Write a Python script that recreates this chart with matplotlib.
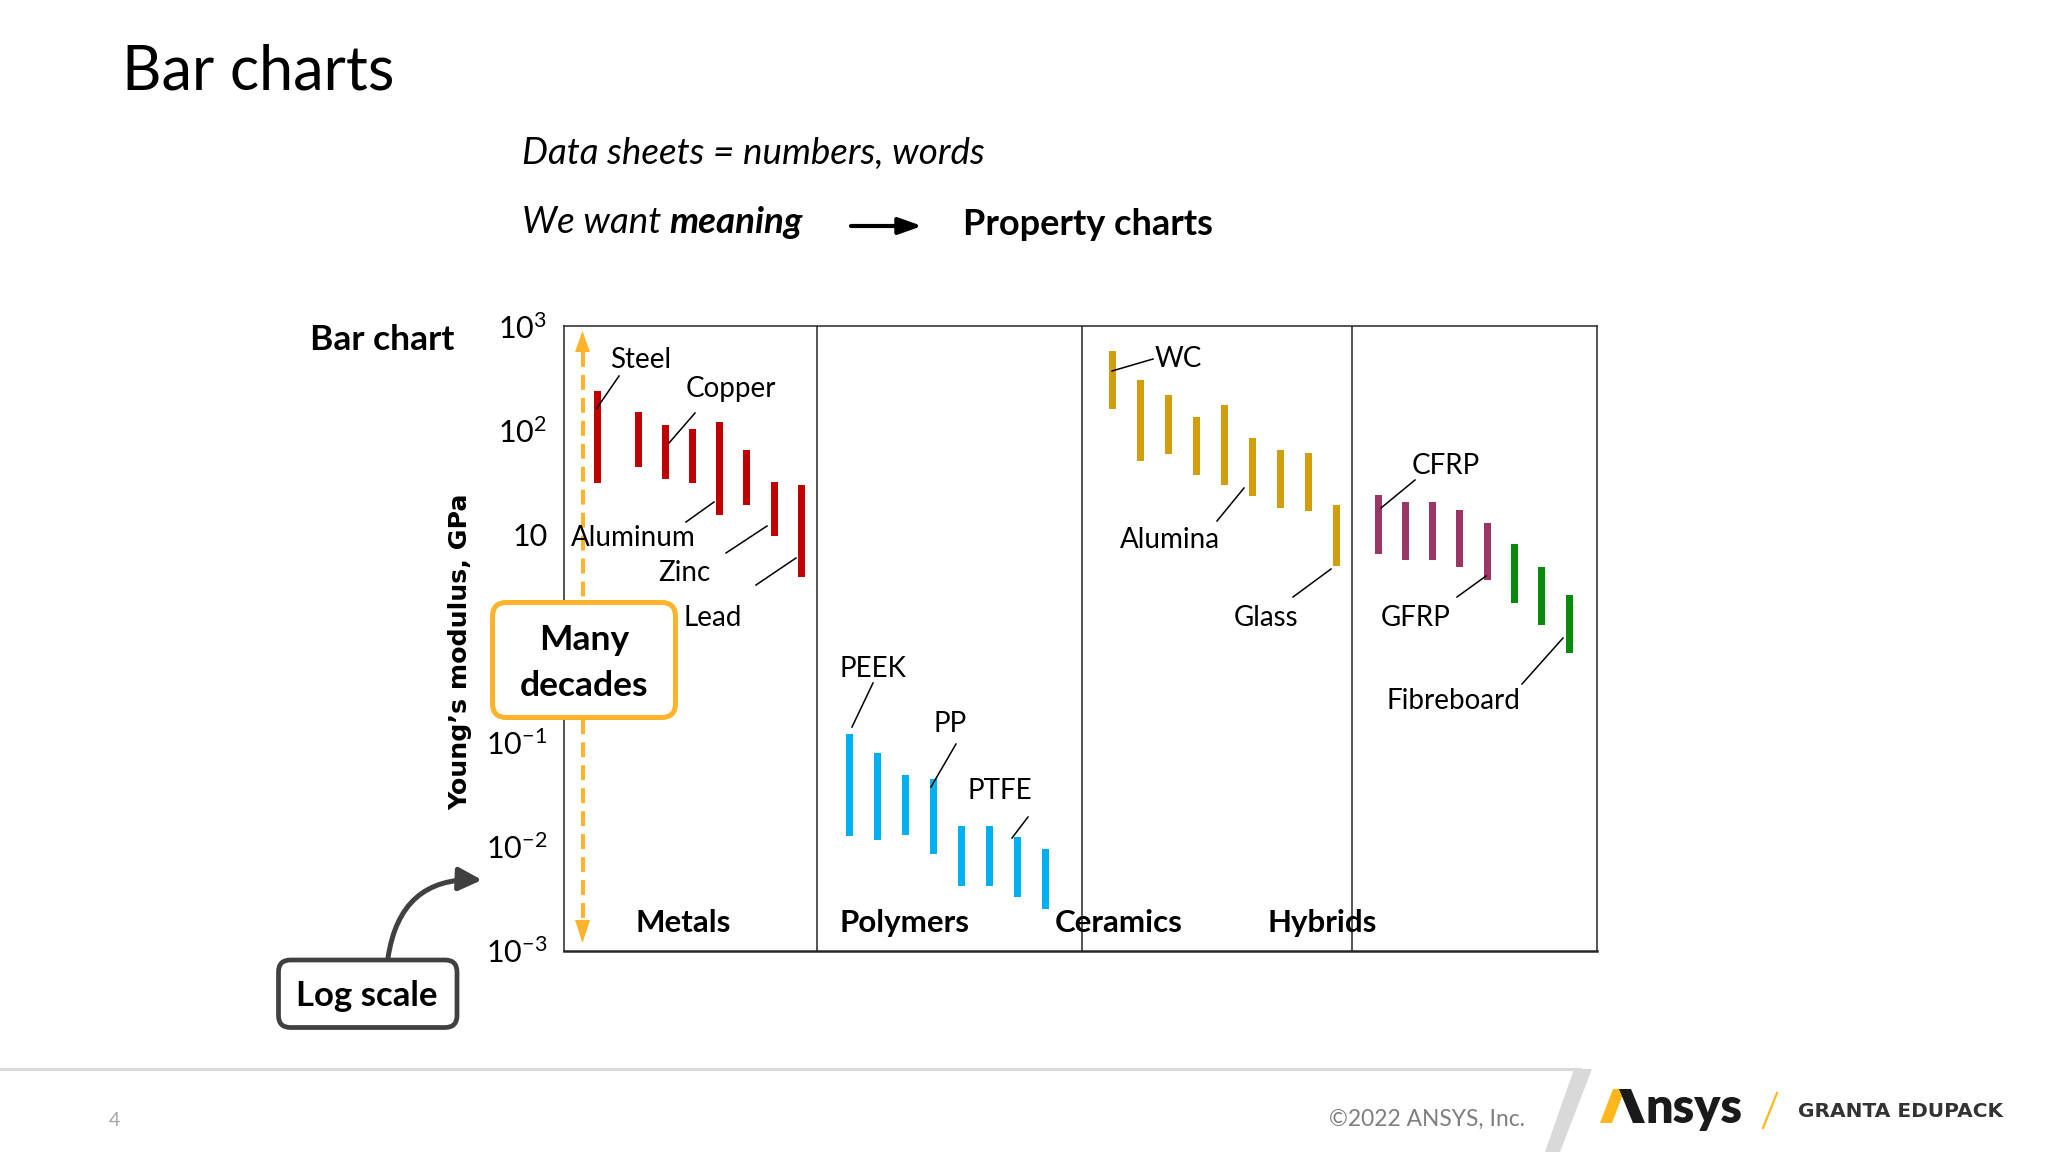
import matplotlib
matplotlib.use('Agg')
import matplotlib.pyplot as plt
from matplotlib.patches import FancyBboxPatch, FancyArrowPatch, Polygon
from matplotlib.ticker import NullLocator

# Young's modulus ranges (GPa)
metals = ['Steel', '', 'Copper', '', 'Aluminum', '', 'Zinc', 'Lead']
metals_lo = [31, 44.5, 34, 31, 15.3, 19, 9.5, 3.9]
metals_hi = [240, 148, 113, 103, 119, 64, 31.5, 30]

polymers = ['PEEK', '', '', 'PP', '', '', 'PTFE', '']
polymers_lo = [0.0127, 0.0115, 0.013, 0.0085, 0.0042, 0.0042, 0.0033, 0.0025]
polymers_hi = [0.12, 0.079, 0.049, 0.044, 0.0156, 0.0156, 0.0123, 0.0095]

ceramics = ['WC', '', '', '', '', 'Alumina', '', '', 'Glass']
ceramics_lo = [160, 51, 59, 37, 30, 23.4, 18, 16.6, 4.9]
ceramics_hi = [580, 305, 216, 134, 174, 84, 64, 60, 19]

hybrids = ['CFRP', '', '', '', 'GFRP', '', '', 'Fibreboard']
hybrids_lo = [6.5, 5.7, 5.7, 4.8, 3.6, 2.2, 1.33, 0.72]
hybrids_hi = [23.6, 20.5, 20.5, 17.2, 12.9, 8.0, 4.8, 2.6]

families = ['Metals', 'Polymers', 'Ceramics', 'Hybrids']
yticks = [1e3, 1e2, 10, 1e-1, 1e-2, 1e-3]
ytick_labels = ['$10^{3}$', '$10^{2}$', '10', '$10^{-1}$', '$10^{-2}$', '$10^{-3}$']

RED = '#C00000'
BLUE = '#00B0F0'
GOLD = '#D19E0E'
PLUM = '#9B3565'
GREEN = '#0A8A0A'
ORANGE = '#FDB42A'
DARK = '#404040'

plt.rcParams['font.family'] = ['Lato', 'DejaVu Sans']
plt.rcParams['mathtext.fontset'] = 'custom'
plt.rcParams['mathtext.rm'] = 'Lato'
plt.rcParams['mathtext.it'] = 'Lato:italic'
plt.rcParams['mathtext.bf'] = 'Lato:bold'

W, H = 2048, 1152
fig = plt.figure(figsize=(W / 100, H / 100), dpi=100)
fig.patch.set_facecolor('white')

# chart frame in slide pixels
L, R, T, B = 564, 1597, 326, 950.5
ax = fig.add_axes([L / W, 1 - B / H, (R - L) / W, (B - T) / H])
ax.set_yscale('log')
ax.set_ylim(1e-3, 1e3)
ax.set_xlim(0, R - L)

groups = [
    (metals_lo, metals_hi, [RED] * 8),
    (polymers_lo, polymers_hi, [BLUE] * 8),
    (ceramics_lo, ceramics_hi, [GOLD] * 9),
    (hybrids_lo, hybrids_hi, [PLUM] * 5 + [GREEN] * 3),
]
edges = [0, 252.7, 518, 788, R - L]
offsets = [33, 32.3, 30, 26]
steps = [27.2, 28.1, 28.0, 27.3]
first_gap = [13.8, 0, 0, 0]   # steel sits a little apart from the other metals
for g, (lo, hi, cols) in enumerate(groups):
    xs = [edges[g] + offsets[g] + steps[g] * k + (first_gap[g] if k else 0) for k in range(len(lo))]
    heights = [h - l for l, h in zip(lo, hi)]
    ax.bar(xs, heights, bottom=lo, width=7, color=cols, linewidth=0)

for e in edges[1:-1]:
    ax.axvline(e, color='#262626', lw=1.1)

ax.set_yticks(yticks)
ax.set_yticklabels(ytick_labels)
ax.yaxis.set_minor_locator(NullLocator())
ax.set_xticks([])
ax.tick_params(axis='y', length=0, pad=12, labelsize=22)
for s in ax.spines.values():
    s.set_color('#262626')
    s.set_linewidth(1.1)
ax.spines['bottom'].set_linewidth(1.8)

# overlay in slide pixels for the annotations
ov = fig.add_axes([0, 0, 1, 1], zorder=5)
ov.set_xlim(0, W)
ov.set_ylim(H, 0)
ov.axis('off')

ov.text(122, 89, 'Bar charts', fontsize=44, va='baseline', ha='left')
ov.text(522, 164, 'Data sheets = numbers, words', fontsize=26.5, style='italic', va='baseline')
t = ov.text(522, 233, 'We want', fontsize=26.5, style='italic', va='baseline')
rend = fig.canvas.get_renderer()
wx = t.get_window_extent(renderer=rend).width
ov.text(522 + wx + 8, 233, 'meaning', fontsize=26.5, style='italic', fontweight='bold', va='baseline')
ov.add_patch(FancyArrowPatch((851, 226), (922, 226), arrowstyle='-|>,head_length=14,head_width=5',
                             mutation_scale=1, color='black', lw=3, shrinkA=0, shrinkB=0))
ov.text(963, 235, 'Property charts', fontsize=26, fontweight='bold', va='baseline')
ov.text(310, 350, 'Bar chart', fontsize=25.5, fontweight='bold', va='baseline')

ov.text(460, 652, 'Young\u2019s modulus, GPa', rotation=90, ha='center', va='center',
        family='DejaVu Sans', fontweight='bold', fontsize=18.2)

# family names along the bottom
fam_x = [683, 905, 1119, 1322]
for name, x in zip(families, fam_x):
    ov.text(x, 932, name, ha='center', va='baseline', fontsize=22.5, fontweight='bold')

# material labels with leader lines
labels = metals + polymers + ceramics + hybrids
label_pos = {
    'Steel': (641, 368, (619, 376), (597, 408)),
    'Copper': (731, 397, (695, 413), (669, 443)),
    'Aluminum': (633, 546, (686, 522), (714, 502)),
    'Zinc': (684, 581, (726, 553), (767, 526)),
    'Lead': (713, 626, (756, 585), (796, 558)),
    'PEEK': (873, 677, (873, 683), (852, 727)),
    'PP': (950, 732, (956, 744), (931, 787)),
    'PTFE': (1000, 799, (1028, 817), (1012, 838)),
    'WC': (1178, 367, (1153, 359), (1112, 371)),
    'Alumina': (1170, 548, (1217, 521), (1244, 488)),
    'Glass': (1266, 626, (1293, 597), (1331, 569)),
    'CFRP': (1446, 474, (1415, 480), (1381, 508)),
    'GFRP': (1416, 626, (1457, 597), (1486, 576)),
    'Fibreboard': (1453, 709, (1522, 684), (1563, 638)),
}
for name in labels:
    if not name:
        continue
    tx, ty, p0, p1 = label_pos[name]
    ov.text(tx, ty, name, ha='center', va='baseline', fontsize=20)
    ov.plot([p0[0], p1[0]], [p0[1], p1[1]], color='black', lw=1.1)

# "many decades" dashed double arrow
dash, = ov.plot([582.5, 582.5], [352, 920], color=ORANGE, lw=2.9, zorder=2)
dash.set_dashes((3.7, 2.0))
dash.set_solid_capstyle('butt')
ov.add_patch(Polygon([(582.5, 331), (575, 352), (590, 352)], closed=True, color=ORANGE, lw=0))
ov.add_patch(Polygon([(582.5, 943), (575, 920), (590, 920)], closed=True, color=ORANGE, lw=0))

ov.add_patch(FancyBboxPatch((492.5, 602.5), 183, 115, boxstyle='round,pad=0,rounding_size=14',
                            ec=ORANGE, fc='white', lw=3.6, zorder=3))
ov.text(584, 650, 'Many', ha='center', va='baseline', fontsize=25.5, fontweight='bold', zorder=4)
ov.text(584, 696, 'decades', ha='center', va='baseline', fontsize=25.5, fontweight='bold', zorder=4)

# "log scale" callout
ov.add_patch(FancyBboxPatch((278.5, 960), 178.5, 67.5, boxstyle='round,pad=0,rounding_size=12',
                            ec=DARK, fc='white', lw=3.4))
ov.text(367, 1006, 'Log scale', ha='center', va='baseline', fontsize=25, fontweight='bold')
ov.add_patch(FancyArrowPatch((388, 958), (482, 880), connectionstyle='arc3,rad=-0.45',
                             arrowstyle='-|>,head_length=14,head_width=7', mutation_scale=1,
                             color=DARK, lw=3.6, shrinkA=0, shrinkB=0))

# footer
ov.plot([0, 1580], [1069, 1069], color='#D9D9D9', lw=2.2)
ov.add_patch(Polygon([(1574, 1069), (1592, 1069), (1560, 1152), (1545, 1152)], closed=True,
                     color='#D9D9D9', lw=0))
ov.text(114, 1126, '4', ha='center', va='baseline', fontsize=14, color='#A6A6A6')
ov.text(1525, 1126, '\u00a92022 ANSYS, Inc.', ha='right', va='baseline', fontsize=16.4, color='#7F7F7F')
ov.add_patch(Polygon([(1600, 1123), (1612, 1123), (1625, 1089), (1613, 1089)], closed=True,
                     color='#FFB71B', lw=0))
ov.add_patch(Polygon([(1619, 1089), (1631, 1089), (1645, 1123), (1633, 1123)], closed=True,
                     color='#1A1A1A', lw=0))
ov.text(1646, 1123, 'nsys', ha='left', va='baseline', fontsize=35, fontweight='heavy', color='#1A1A1A')
ov.plot([1763, 1777], [1128, 1093], color='#FFB71B', lw=1.6)
ov.text(1798, 1117, 'GRANTA EDUPACK', ha='left', va='baseline', fontsize=14.5,
        family='DejaVu Sans', fontweight='bold', color='#333333')

fig.savefig('out.png', dpi=100, facecolor='white')
